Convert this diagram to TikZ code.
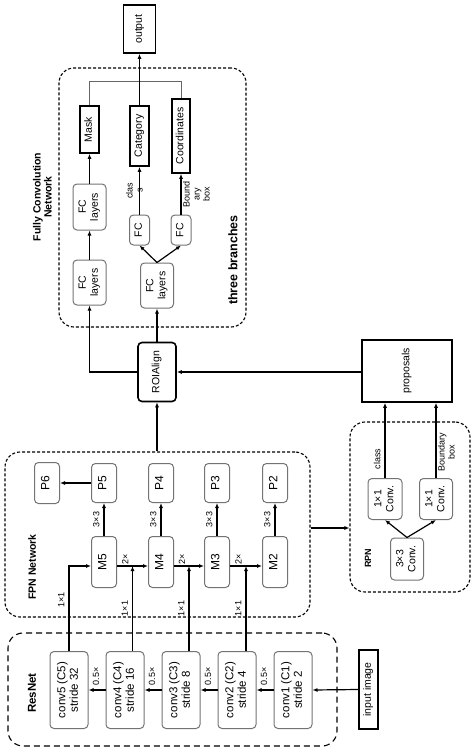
\documentclass[tikz,border=0pt]{standalone}
\usepackage{fontspec}
\setmainfont{Liberation Sans}
\usetikzlibrary{arrows.meta}

\newcommand{\rtext}[1]{\rotatebox{90}{\begin{tabular}{@{}c@{}}#1\end{tabular}}}

\tikzset{
  layer/.style={draw=black!55, line width=1pt, rounded corners=4pt, inner sep=0pt},
  sqbox/.style={draw, line width=1.6pt, inner sep=0pt},
  grp/.style={draw, line width=1.1pt, dash pattern=on 3pt off 2pt, rounded corners=15pt, inner sep=0pt},
  arr/.style={-{Latex[length=5pt,width=4pt]}, line width=1.2pt},
  lbl/.style={inner sep=1pt, font=\fontsize{9}{10}\selectfont},
  ttl/.style={inner sep=0pt, font=\bfseries\fontsize{11}{12}\selectfont}
}

\begin{document}
\begin{tikzpicture}[x=1pt, y=-1pt, font=\fontsize{10.5}{12}\selectfont]
\useasboundingbox (0,0) rectangle (474,752);

% dashed groups
\node[grp, dash pattern=on 6pt off 4pt, minimum width=329pt, minimum height=113pt] (res) at (172.5,689.5) {};
\node[grp, minimum width=305pt, minimum height=165pt] (fpn) at (157.5,534.5) {};
\node[grp, minimum width=120pt, minimum height=170pt] (rpn) at (410,507) {};
\node[grp, minimum width=187pt, minimum height=259pt] (fcn) at (152.5,197.5) {};

\node[ttl, font=\bfseries\fontsize{11.5}{12}\selectfont] (tres) at (32,693) {\rotatebox{90}{ResNet}};
\node[ttl, font=\bfseries\fontsize{10.5}{12}\selectfont] (tfpn) at (32,567) {\rotatebox{90}{FPN Network}};
\node[ttl, font=\bfseries\fontsize{9}{12}\selectfont] (trpn) at (368,558) {\rotatebox{90}{RPN}};
\node[ttl, font=\bfseries\fontsize{10.5}{11}\selectfont] (tfcn) at (44,197) {\rtext{Fully Convolution\\Network}};
\node[ttl, font=\bfseries\fontsize{12.5}{12}\selectfont] (tbr) at (233,260) {\rotatebox{90}{three branches}};

% ResNet
\foreach \i/\x/\s in {5/69/32,4/125/16,3/181/8,2/237/4,1/293/2}
  \node[layer, font=\fontsize{11.5}{12.5}\selectfont, minimum width=38pt, minimum height=77pt] (c\i) at (\x,690) {\rtext{conv\i{} (C\i)\\stride \s}};
\node[sqbox, minimum width=19pt, minimum height=79pt] (img) at (368.5,689.5) {\rtext{input image}};
\draw[arr] (img.west) -- (c1.east);
\foreach \a/\b in {1/2,2/3,3/4,4/5}
  \draw[arr] (c\a.west) -- node[lbl, above=3pt] {\rtext{0.5×}} (c\b.east);

% FPN
\foreach \i/\x in {5/104,4/161,3/217,2/275} {
  \node[layer, font=\fontsize{12}{12}\selectfont, minimum width=25pt, minimum height=51pt] (M\i) at (\x,562) {\rtext{M\i}};
  \node[layer, font=\fontsize{12}{12}\selectfont, minimum width=25pt, minimum height=39pt] (P\i) at (\x,483) {\rtext{P\i}};
  \draw[arr] (M\i) -- node[lbl, left] {\rtext{3×3}} (P\i);
}
\node[layer, font=\fontsize{12}{12}\selectfont, minimum width=25pt, minimum height=41pt] (P6) at (47,483) {\rtext{P6}};
\draw[arr] (P5) -- (P6);
\draw[arr] ([yshift=-4pt]M5.east) -- coordinate[pos=.5] (j4) node[lbl, pos=.3, above] {\rtext{2×}} ([yshift=-4pt]M4.west);
\draw[arr] ([yshift=-4pt]M4.east) -- coordinate[pos=.5] (j3) node[lbl, pos=.3, above] {\rtext{2×}} ([yshift=-4pt]M3.west);
\draw[arr] ([yshift=-4pt]M3.east) -- coordinate[pos=.5] (j2) node[lbl, pos=.3, above] {\rtext{2×}} ([yshift=-4pt]M2.west);
\draw[arr] (c5.north) |- node[lbl, pos=.3, left] {\rtext{1×1}} ([yshift=-4pt]M5.west);
\draw[arr] (c4.north -| j4) -- node[lbl, left] {\rtext{1×1}} (j4);
\draw[arr] (c3.north -| j3) -- node[lbl, left] {\rtext{1×1}} (j3);
\draw[arr] (c2.north -| j2) -- node[lbl, left] {\rtext{1×1}} (j2);

% RPN
\coordinate (jr) at (330,528);
\draw[arr] (fpn.east |- jr) -- (rpn.west |- jr);
\node[layer, minimum width=33pt, minimum height=42pt] (r3) at (407,559) {\rtext{3×3\\Conv.}};
\node[layer, minimum width=34pt, minimum height=41pt] (rcls) at (385,499) {\rtext{1×1\\Conv.}};
\node[layer, minimum width=33pt, minimum height=41pt] (rbox) at (436,499) {\rtext{1×1\\Conv.}};
\draw[arr] (r3.north) -- (rcls.south);
\draw[arr] (r3.north) -- (rbox.south);
\node[sqbox, minimum width=90pt, minimum height=62pt] (prop) at (407,371) {\rtext{proposals}};
\draw[arr] (rcls.north) -- node[lbl, pos=.25, left] {\rtext{class}} (rcls.north |- prop.south);
\draw[arr] (rbox.north) -- node[lbl, pos=.34, right] {\rtext{Boundary\\box}} (rbox.north |- prop.south);

% ROIAlign
\node[draw, line width=1.6pt, rounded corners=4pt, inner sep=0pt, minimum width=38pt, minimum height=59pt] (roi) at (157,372) {\rtext{ROIAlign}};
\draw[arr] (prop.west |- roi) -- (roi.east);
\draw[arr] (fpn.north -| roi.south) -- (roi.south);

% three branches
\node[layer, minimum width=33pt, minimum height=45pt] (fa1) at (89.5,282.5) {\rtext{FC\\layers}};
\node[layer, minimum width=33pt, minimum height=46pt] (fa2) at (89.5,207) {\rtext{FC\\layers}};
\node[layer, minimum width=33pt, minimum height=45pt] (fb) at (157,285.5) {\rtext{FC\\layers}};
\node[layer, minimum width=20pt, minimum height=30pt] (fc1) at (139.5,230) {\rtext{FC}};
\node[layer, minimum width=20pt, minimum height=30pt] (fc2) at (181,230) {\rtext{FC}};
\node[sqbox, minimum width=19pt, minimum height=47pt] (mask) at (89.5,129.5) {\rtext{Mask}};
\node[sqbox, minimum width=19pt, minimum height=60pt] (cat) at (139.5,136) {\rtext{Category}};
\node[sqbox, minimum width=18pt, minimum height=74pt] (coord) at (181,136) {\rtext{Coordinates}};
\node[sqbox, minimum width=32pt, minimum height=48pt] (out) at (139.5,29) {\rtext{output}};
\draw[arr] (roi.north) -- (fb.south);
\draw[arr] (roi.west) -| (fa1.south);
\draw[arr] (fa1) -- (fa2);
\draw[arr] (fa2) -- (mask);
\draw[arr] (fb.north) -- (fc1.south);
\draw[arr] (fb.north) -- (fc2.south);
\draw[arr] (fc1) -- node[lbl, xshift=-4pt] {\rtext{clas\\s}} (cat);
\draw[arr] (fc2) -- node[lbl, right] {\rtext{Bound\\ary\\box}} (coord);
\coordinate (jt) at (139.5,81);
\draw[line width=0.8pt, black!60] (mask.north) -- (mask.north |- jt) -- (coord.north |- jt) -- (coord.north);
\draw[arr] (cat) -- (out);
\end{tikzpicture}
\end{document}
